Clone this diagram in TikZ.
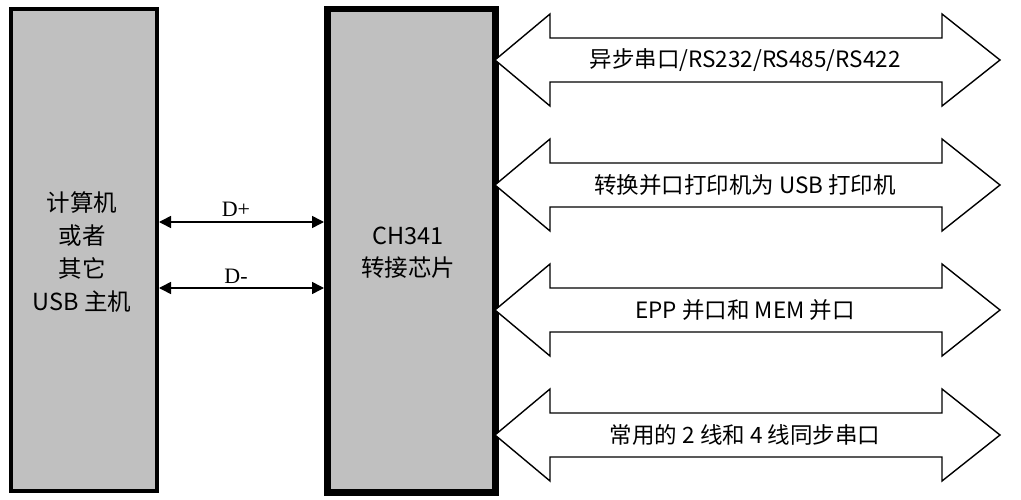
\documentclass[tikz,border=0pt]{standalone}
\usepackage{fontspec}
\setmainfont{Noto Sans CJK SC}
\newfontfamily\dfont{Liberation Serif}
\usetikzlibrary{arrows.meta}
\definecolor{boxgray}{RGB}{192,192,192}
\begin{document}
\begin{tikzpicture}[x=1pt,y=-1pt,
  hostbox/.style={draw=black, fill=boxgray, line width=4pt, inner sep=0pt},
  chipbox/.style={draw=black, fill=boxgray, line width=6.5pt, inner sep=0pt},
  lbl/.style={font=\fontsize{23.5}{33}\selectfont, align=center, inner sep=0pt},
  bus/.style={line width=1.6pt, {Triangle[length=12pt,width=12pt]}-{Triangle[length=12pt,width=12pt]}},
  dlabel/.style={font=\dfont\fontsize{22}{22}\selectfont, inner sep=0pt},
  blockarrow/.style={draw=black, line width=1.4pt, fill=white, line join=miter},
  buslbl/.style={font=\fontsize{22.5}{24}\selectfont, inner sep=0pt}]
\useasboundingbox (0,0) rectangle (1021,500);
\fill[white] (0,0) rectangle (1021,500);

% boxes
\node[hostbox, minimum width=146pt, minimum height=482pt, anchor=north west] (host) at (9,7) {};
\node[chipbox, minimum width=168pt, minimum height=483pt, anchor=north west] (chip) at (324,6) {};

\node[lbl] (hosttext) at (82,252) {计算机\\或者\\其它\\USB 主机};
\node[lbl, font=\fontsize{23.5}{32}\selectfont] (chiptext) at (408,253) {CH341\\转接芯片};

% USB data lines
\coordinate (dp) at (0,222);
\coordinate (dm) at (0,288);
\draw[bus] (host.east |- dp) -- (chip.west |- dp);
\draw[bus] (host.east |- dm) -- (chip.west |- dm);
\node[dlabel] (dplabel) at (236,209) {D+};
\node[dlabel] (dmlabel) at (236,276) {D-};

% block arrows
\foreach \y/\t/\n in {60/{异步串口/RS232/RS485/RS422}/a,
                      185/{转换并口打印机为 USB 打印机}/b,
                      310/{EPP 并口和 MEM 并口}/c,
                      435/{常用的 2 线和 4 线同步串口}/d}{
  \draw[blockarrow] (495,\y) -- (550,\y-46) -- (550,\y-22) -- (942,\y-22)
     -- (942,\y-46) -- (1000,\y) -- (942,\y+46) -- (942,\y+22)
     -- (550,\y+22) -- (550,\y+46) -- cycle;
  \node[buslbl] (bus\n) at (745,\y) {\t};
}
\end{tikzpicture}
\end{document}
